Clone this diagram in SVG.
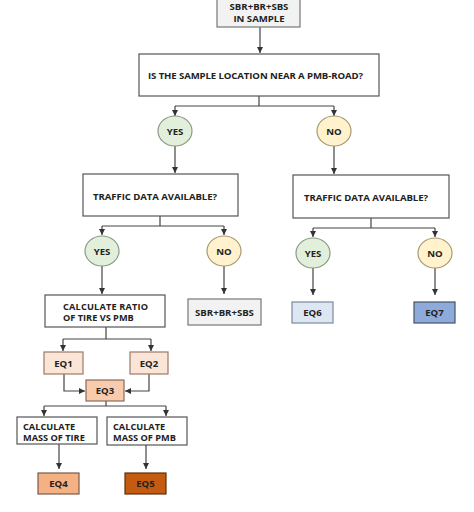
<svg xmlns="http://www.w3.org/2000/svg" width="474" height="512" viewBox="0 0 474 512">
<defs>
<marker id="arr" viewBox="0 0 6 6" refX="6" refY="3" markerWidth="6" markerHeight="6" markerUnits="userSpaceOnUse" orient="auto">
<path d="M0,0 L6,3 L0,6 Z" fill="#333"/>
</marker>
</defs>
<style>
.box{fill:#fff;stroke:#555;stroke-width:1.2}
.grey{fill:#f2f2f2;stroke:#777;stroke-width:1.2}
.yes{fill:#e2efda;stroke:#8a9a86;stroke-width:1.2}
.no{fill:#fff2cc;stroke:#a89a70;stroke-width:1.2}
.eq6{fill:#dde7f3;stroke:#7a8aa0;stroke-width:1.2}
.eq7{fill:#8eaadb;stroke:#44546a;stroke-width:1.2}
.eqa{fill:#fbe5d6;stroke:#9a7a6a;stroke-width:1.2}
.eqb{fill:#f8cbad;stroke:#8a6a5a;stroke-width:1.2}
.eqc{fill:#f4b183;stroke:#7a5a4a;stroke-width:1.2}
.eqd{fill:#c55a11;stroke:#5a3010;stroke-width:1.2}
text{font-family:"Open Sans","Noto Sans","DejaVu Sans",sans-serif;font-weight:700;font-size:9.6px;fill:#222}
.s{font-size:9.2px}
.c{text-anchor:middle}
.ln{fill:none;stroke:#444;stroke-width:1.2}
</style>
<rect width="474" height="512" fill="#fff"/>
<g id="connectors">
<path class="ln" d="M260,27 V53" marker-end="url(#arr)"/>
<path class="ln" d="M259,96 V106 M175,106 H334"/>
<path class="ln" d="M175,106 V116" marker-end="url(#arr)"/>
<path class="ln" d="M334,106 V116" marker-end="url(#arr)"/>
<path class="ln" d="M175,146 V173" marker-end="url(#arr)"/>
<path class="ln" d="M334,146 V174" marker-end="url(#arr)"/>
<path class="ln" d="M160,216 V226 M102,226 H224"/>
<path class="ln" d="M102,226 V235" marker-end="url(#arr)"/>
<path class="ln" d="M224,226 V235" marker-end="url(#arr)"/>
<path class="ln" d="M371,218 V228 M313,228 H435"/>
<path class="ln" d="M313,228 V237" marker-end="url(#arr)"/>
<path class="ln" d="M435,228 V237" marker-end="url(#arr)"/>
<path class="ln" d="M102,266 V294" marker-end="url(#arr)"/>
<path class="ln" d="M224,266 V294" marker-end="url(#arr)"/>
<path class="ln" d="M313,268 V295" marker-end="url(#arr)"/>
<path class="ln" d="M435,268 V295" marker-end="url(#arr)"/>
<path class="ln" d="M106,327 V339 M63,339 H151"/>
<path class="ln" d="M63,339 V351" marker-end="url(#arr)"/>
<path class="ln" d="M151,339 V351" marker-end="url(#arr)"/>
<path class="ln" d="M64,374 V391 H85" marker-end="url(#arr)"/>
<path class="ln" d="M149,374 V391 H125" marker-end="url(#arr)"/>
<path class="ln" d="M106,401 V406 M44,406 H166"/>
<path class="ln" d="M44,406 V416" marker-end="url(#arr)"/>
<path class="ln" d="M166,406 V416" marker-end="url(#arr)"/>
<path class="ln" d="M59,444 V469" marker-end="url(#arr)"/>
<path class="ln" d="M146,445 V469" marker-end="url(#arr)"/>
</g>
<g id="start"><rect class="grey" x="217" y="-2" width="83" height="29"/><text class="c" x="259" y="10">SBR+BR+SBS</text><text class="c" x="259" y="21.5">IN SAMPLE</text></g>
<g id="q1"><rect class="box" x="139" y="54" width="240" height="42"/><text x="148" y="78.5" textLength="215">IS THE SAMPLE LOCATION NEAR A PMB-ROAD?</text></g>
<g id="yes1"><ellipse class="yes" cx="175" cy="131" rx="17" ry="15"/><text class="c" x="175" y="134.5">YES</text></g>
<g id="no1"><ellipse class="no" cx="334" cy="131" rx="17" ry="15"/><text class="c" x="334" y="134.5">NO</text></g>
<g id="q2"><rect class="box" x="83" y="174" width="155" height="42"/><text x="93" y="199.5" textLength="124">TRAFFIC DATA AVAILABLE?</text></g>
<g id="q3"><rect class="box" x="293" y="175" width="156" height="43"/><text x="304" y="200.5" textLength="124">TRAFFIC DATA AVAILABLE?</text></g>
<g id="yes2"><ellipse class="yes" cx="102" cy="251" rx="17" ry="15"/><text class="c" x="102" y="254.5">YES</text></g>
<g id="no2"><ellipse class="no" cx="224" cy="251" rx="17" ry="15"/><text class="c" x="224" y="254.5">NO</text></g>
<g id="yes3"><ellipse class="yes" cx="313" cy="253" rx="17" ry="15"/><text class="c" x="313" y="256.5">YES</text></g>
<g id="no3"><ellipse class="no" cx="435" cy="253" rx="17" ry="15"/><text class="c" x="435" y="256.5">NO</text></g>
<g id="ratio"><rect class="box" x="45" y="295" width="120" height="32"/><text class="s" x="63" y="309.5" textLength="85">CALCULATE RATIO</text><text class="s" x="63" y="321">OF TIRE VS PMB</text></g>
<g id="sbr"><rect class="grey" x="188" y="299" width="73" height="26"/><text class="c" x="224.5" y="315.5">SBR+BR+SBS</text></g>
<g id="eq6"><rect class="eq6" x="292" y="302" width="41" height="21"/><text class="c" x="312.5" y="316">EQ6</text></g>
<g id="eq7"><rect class="eq7" x="414" y="302" width="41" height="21"/><text class="c" x="434.5" y="316">EQ7</text></g>
<g id="eq1"><rect class="eqa" x="44" y="352" width="39" height="22"/><text class="c" x="63.5" y="366.5">EQ1</text></g>
<g id="eq2"><rect class="eqa" x="130" y="352" width="38" height="22"/><text class="c" x="149" y="366.5">EQ2</text></g>
<g id="eq3"><rect class="eqb" x="86" y="380" width="38" height="21"/><text class="c" x="105" y="394">EQ3</text></g>
<g id="masstire"><rect class="box" x="17" y="417" width="80" height="27"/><text class="s" x="23" y="429.5">CALCULATE</text><text class="s" x="23" y="441">MASS OF TIRE</text></g>
<g id="masspmb"><rect class="box" x="107" y="417" width="80" height="28"/><text class="s" x="113" y="429.5">CALCULATE</text><text class="s" x="113" y="441">MASS OF PMB</text></g>
<g id="eq4"><rect class="eqc" x="38" y="473" width="41" height="21"/><text class="c" x="58.5" y="487">EQ4</text></g>
<g id="eq5"><rect class="eqd" x="125" y="473" width="41" height="21"/><text class="c" x="145.5" y="487">EQ5</text></g>
</svg>
